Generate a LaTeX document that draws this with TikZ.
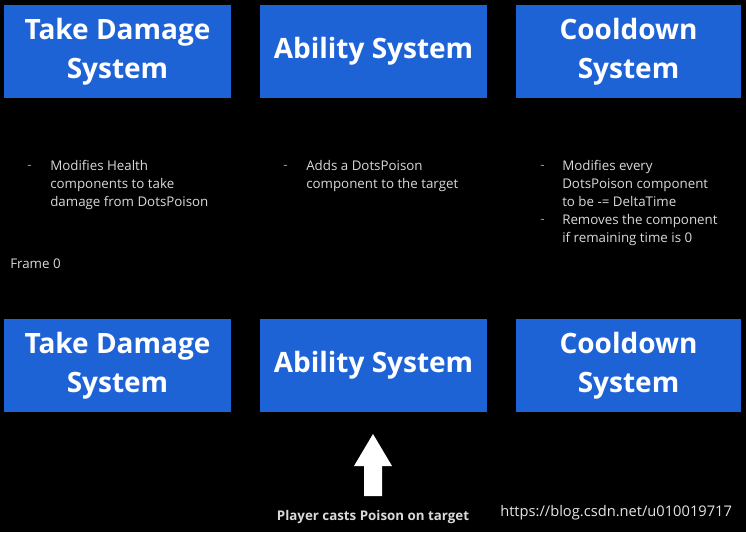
\documentclass[tikz,border=0pt]{standalone}
\usepackage{fontspec}
\setmainfont{Open Sans}
\usepackage{xcolor}
\usetikzlibrary{positioning}
\definecolor{sysblue}{HTML}{1E63D6}
\tikzset{
  sys/.style={fill=sysblue, text=white, font=\fontsize{21}{29}\selectfont\bfseries,
    minimum width=170pt, minimum height=70pt, align=center, inner sep=0pt},
  note/.style={text=white!85!black, font=\fontsize{10}{13.5}\selectfont,
    anchor=north west, align=left, inner sep=0pt},
  bullet/.style={text=white!60!black, font=\fontsize{10}{13.5}\selectfont,
    anchor=north west, inner sep=0pt}
}
\begin{document}
\begin{tikzpicture}[x=0.75pt, y=-0.75pt]
\useasboundingbox (0,0) rectangle (746,532);
\fill[black] (0,0) rectangle (746,532);
% top row of systems
\node[sys] (damageA) at (117.5,51.5) {Take Damage\\System};
\node[sys] (abilityA) at (373.5,51.5) {Ability System};
\node[sys, minimum width=169pt] (cooldownA) at (628.5,51.5) {Cooldown\\System};
% notes
\node[bullet] (dA) at (27,165) {-};
\node[note] (noteA) at (50,160) {Modifies Health\\components to take\\damage from DotsPoison};
\node[bullet] (dB) at (283,165) {-};
\node[note] (noteB) at (306,160) {Adds a DotsPoison\\component to the target};
\node[bullet] (dC) at (540,165) {-};
\node[note] (noteC) at (562,160) {Modifies every\\DotsPoison component\\to be -= DeltaTime};
\node[bullet] (dD) at (540,219) {-};
\node[note] (noteD) at (562,214) {Removes the component\\if remaining time is 0};
\node[note] (frame) at (10,259) {Frame 0};
% bottom row of systems
\node[sys] (damageB) at (117.5,365.5) {Take Damage\\System};
\node[sys] (abilityB) at (373.5,365.5) {Ability System};
\node[sys, minimum width=169pt] (cooldownB) at (628.5,365.5) {Cooldown\\System};
% player input arrow
\fill[white] (364,496) -- (364,466) -- (354,466) -- (373,434) -- (392,466)
  -- (382,466) -- (382,496) -- cycle;
\node[text=white!85!black, font=\fontsize{10}{12}\selectfont\bfseries] (cast) at (373,517) {Player casts Poison on target};
\node[text=white!90!black, font=\fontsize{11}{12}\selectfont, anchor=west, inner sep=0pt] (url) at (500,513) {https://blog.csdn.net/u010019717};
\end{tikzpicture}
\end{document}
